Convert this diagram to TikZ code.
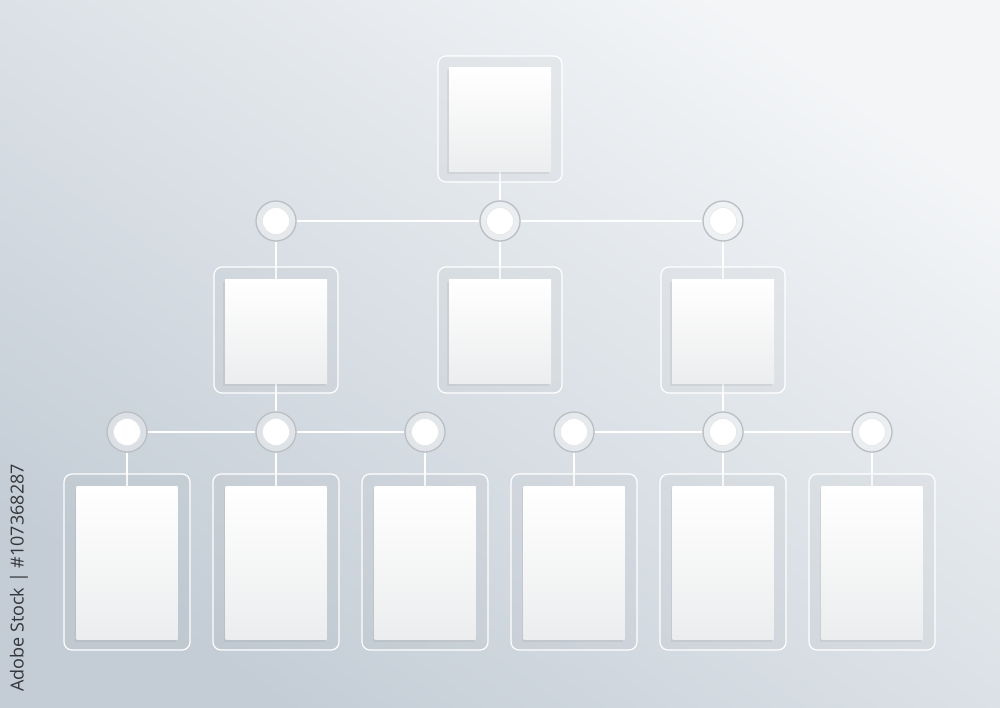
\documentclass[tikz,border=0pt]{standalone}
\usepackage{fontspec}
\setsansfont{Open Sans}
\usetikzlibrary{shadows}
\pgfdeclarelayer{back}
\pgfsetlayers{back,main}

\definecolor{bgtr}{HTML}{F3F5F7}
\definecolor{bgbl}{HTML}{C4CDD6}
\definecolor{cardgrey}{HTML}{ECEDEE}
\definecolor{ringgrey}{HTML}{BBBFC3}
\definecolor{markgrey}{HTML}{33363A}

\tikzset{
  frame/.style={draw=white, line width=1.2pt, rounded corners=8pt,
    fill=gray, fill opacity=.06},
  card/.style={top color=white, bottom color=cardgrey, inner sep=0pt,
    drop shadow={shadow xshift=-2pt, shadow yshift=-3pt, opacity=.12}},
  sqcard/.style={card, minimum width=102pt, minimum height=104pt},
  tallcard/.style={card, minimum width=101pt, minimum height=153pt},
  hub/.style={circle, minimum size=40pt, inner sep=0pt, draw=ringgrey,
    line width=1.3pt, fill=white, fill opacity=.3},
  dot/.style={circle, minimum size=27pt, inner sep=0pt, fill=white,
    draw=gray!20, line width=.6pt},
  link/.style={draw=white, line width=2pt}
}

\begin{document}
\begin{tikzpicture}[x=1pt,y=-1pt]
\useasboundingbox (0,0) rectangle (1000,707);
% Background
\begin{pgfonlayer}{back}
\shade[top color=bgtr, bottom color=bgbl, shading angle=-35]
  (0,0) rectangle (1000,707);
\end{pgfonlayer}

% Top card
\node[frame, minimum width=124pt, minimum height=126pt] (tf) at (500,119) {};
\node[sqcard] (t) at (500,119) {};

% Middle row
\foreach \x [count=\i] in {276,500,723} {
  \node[frame, minimum width=124pt, minimum height=126pt] (mf\i) at (\x,330) {};
  \node[sqcard] (m\i) at (\x,331) {};
}

% Bottom row
\foreach \x [count=\i] in {127,276,425,574,723,872} {
  \node[frame, minimum width=126pt, minimum height=176pt] (bf\i) at (\x,562) {};
  \node[tallcard] (b\i) at (\x,562.5) {};
}

% Hubs
\foreach \x [count=\i] in {276,500,723} {
  \node[hub] (h\i) at (\x,221) {};
  \node[dot] (hd\i) at (h\i) {};
}
\foreach \x [count=\i] in {127,276,425,574,723,872} {
  \node[hub] (g\i) at (\x,432) {};
  \node[dot] (gd\i) at (g\i) {};
}

% Connectors
\begin{pgfonlayer}{back}
\draw[link] (t) -- (h2);
\draw[link] (h1) -- (h2) -- (h3);
\foreach \i in {1,2,3} \draw[link] (h\i) -- (m\i);
\draw[link] (m1) -- (g2);
\draw[link] (m3) -- (g5);
\draw[link] (g1) -- (g2) -- (g3);
\draw[link] (g4) -- (g5) -- (g6);
\foreach \i in {1,...,6} \draw[link] (g\i) -- (b\i);
\end{pgfonlayer}

% Side mark
\node[rotate=90, font=\sffamily\fontsize{18}{18}\selectfont, text=markgrey]
  (mark) at (19,578) {Adobe Stock | \#107368287};
\end{tikzpicture}
\end{document}
